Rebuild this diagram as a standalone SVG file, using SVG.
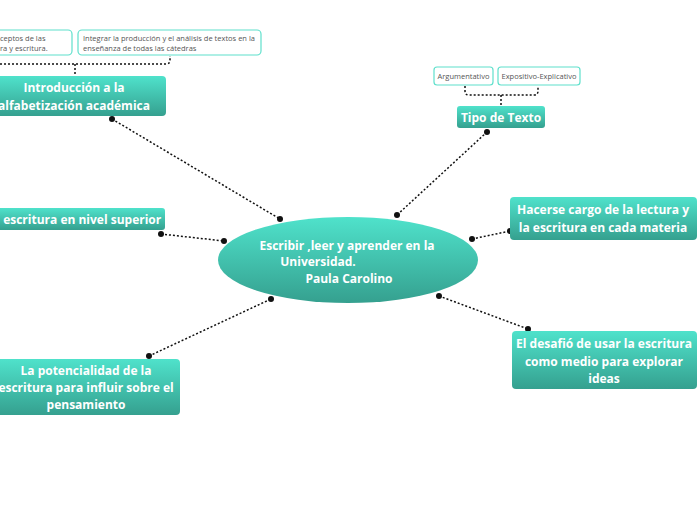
<svg xmlns="http://www.w3.org/2000/svg" width="697" height="520" viewBox="0 0 697 520">
<defs>
<linearGradient id="g" x1="0" y1="0" x2="0" y2="1"><stop offset="0" stop-color="#4fe2cb"/><stop offset="1" stop-color="#35a08f"/></linearGradient>
<style>
.n{fill:url(#g)}
.t{font-family:"Open Sans","Noto Sans",sans-serif;font-weight:bold;fill:#fff;font-size:12px;text-anchor:middle}
.s{fill:#fff;stroke:#5fe0cc;stroke-width:1.2}
.st{font-family:"Open Sans","Noto Sans",sans-serif;fill:#555;font-size:7.5px}
.c{stroke:#111;stroke-width:1.5;stroke-dasharray:2 2;fill:none}
.d{fill:#111}
</style>
</defs>
<rect width="697" height="520" fill="#fff"/>
<g id="connectors">
<path class="c" d="M112 119L280 219M161 234L224 241M149 356L271 299M487 132L397 215M472 239L510 231M439 296L528 329"/>
<g class="d"><circle cx="112" cy="119" r="3"/><circle cx="280" cy="219" r="3"/><circle cx="161" cy="234" r="3"/><circle cx="224" cy="241" r="3"/><circle cx="149" cy="356" r="3"/><circle cx="271" cy="299" r="3"/><circle cx="487" cy="132" r="3"/><circle cx="397" cy="215" r="3"/><circle cx="472" cy="239" r="3"/><circle cx="510" cy="231" r="3"/><circle cx="439" cy="296" r="3"/><circle cx="528" cy="329" r="3"/></g>
<path class="c" d="M0 64H166Q170 64 170 60V56M75 64V76"/>
<path class="c" d="M465 86V91Q465 95 469 95H534Q538 95 538 91V86M501 95V106"/>
</g>
<g id="center"><ellipse class="n" cx="348" cy="260" rx="130" ry="43"/>
<text class="t" x="347" y="250">Escribir ,leer y aprender en la</text>
<text class="t" x="318" y="266">Universidad.</text>
<text class="t" x="349" y="283">Paula Carolino</text></g>
<g id="intro"><rect class="n" x="-10" y="76" width="176" height="40" rx="4"/>
<text class="t" x="74" y="92">Introducción a la</text><text class="t" x="74" y="110">alfabetización académica</text></g>
<g id="sub1"><rect class="s" x="-5" y="30" width="77" height="25" rx="4"/>
<text class="st" x="0" y="41">ceptos de las</text><text class="st" x="0" y="51">ra y escritura.</text></g>
<g id="sub2"><rect class="s" x="78" y="30" width="183" height="25" rx="4"/>
<text class="st" x="83" y="41">Integrar la producción y el análisis de textos en la</text><text class="st" x="83" y="51">enseñanza de todas las cátedras</text></g>
<g id="tipo"><rect class="n" x="457" y="106" width="88" height="22" rx="3"/><text class="t" x="501" y="122">Tipo de Texto</text></g>
<g id="arg"><rect class="s" x="434" y="67" width="59" height="18" rx="3"/><text class="st" x="463.5" y="79" text-anchor="middle">Argumentativo</text></g>
<g id="exp"><rect class="s" x="498" y="67" width="82" height="18" rx="3"/><text class="st" x="539" y="79" text-anchor="middle">Expositivo-Explicativo</text></g>
<g id="nivel"><rect class="n" x="-5" y="208" width="170" height="22" rx="3"/><text class="t" x="77" y="224">a escritura en nivel superior</text></g>
<g id="hacerse"><rect class="n" x="510" y="197" width="187" height="43" rx="4"/>
<text class="t" x="603" y="214">Hacerse cargo de la lectura y</text><text class="t" x="603" y="232">la escritura en cada materia</text></g>
<g id="desafio"><rect class="n" x="512" y="331" width="185" height="58" rx="4"/>
<text class="t" x="604" y="348">El desafió de usar la escritura</text><text class="t" x="604" y="366">como medio para explorar</text><text class="t" x="604" y="383">ideas</text></g>
<g id="potencial"><rect class="n" x="-5" y="359" width="185" height="56" rx="4"/>
<text class="t" x="86" y="375">La potencialidad de la</text><text class="t" x="86" y="392">escritura para influir sobre el</text><text class="t" x="86" y="409">pensamiento</text></g>
</svg>
